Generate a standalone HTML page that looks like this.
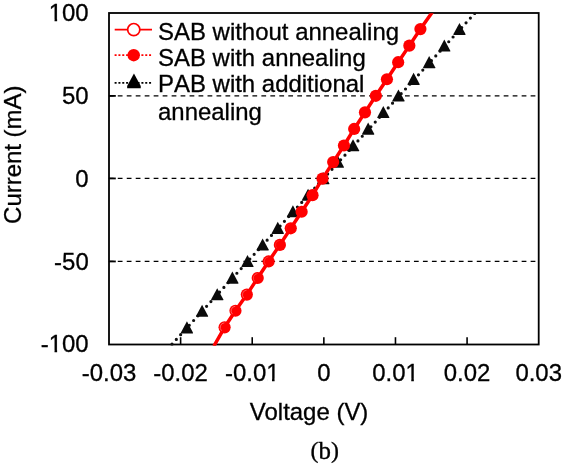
<!DOCTYPE html>
<html><head><meta charset="utf-8"><title>I-V characteristics</title>
<style>
html,body{margin:0;padding:0;background:#fff;}
svg{display:block;}
text{font-family:"Liberation Sans",Arial,Helvetica,sans-serif;fill:#000;font-kerning:none;}
.serif{font-family:"Liberation Serif","Times New Roman",serif;}
</style></head><body>
<svg width="562" height="464" viewBox="0 0 562 464">
<rect width="562" height="464" fill="#fff"/>
<line x1="108.8" y1="95.9" x2="538.7" y2="95.9" stroke="#000" stroke-width="1.3" stroke-dasharray="4.75 4.225"/>
<line x1="108.8" y1="178.45" x2="538.7" y2="178.45" stroke="#000" stroke-width="1.3" stroke-dasharray="4.75 4.225"/>
<line x1="108.8" y1="261.45" x2="538.7" y2="261.45" stroke="#000" stroke-width="1.3" stroke-dasharray="4.75 4.225"/>
<line x1="180.62" y1="344.5" x2="180.62" y2="337.2" stroke="#000" stroke-width="1.6"/>
<line x1="252.23" y1="344.5" x2="252.23" y2="337.2" stroke="#000" stroke-width="1.6"/>
<line x1="323.85" y1="344.5" x2="323.85" y2="337.2" stroke="#000" stroke-width="1.6"/>
<line x1="395.47" y1="344.5" x2="395.47" y2="337.2" stroke="#000" stroke-width="1.6"/>
<line x1="467.08" y1="344.5" x2="467.08" y2="337.2" stroke="#000" stroke-width="1.6"/>
<line x1="109.0" y1="95.9" x2="115.8" y2="95.9" stroke="#000" stroke-width="1.8"/>
<line x1="109.0" y1="178.45" x2="115.8" y2="178.45" stroke="#000" stroke-width="1.8"/>
<line x1="109.0" y1="261.45" x2="115.8" y2="261.45" stroke="#000" stroke-width="1.8"/>
<rect x="109.0" y="13.0" width="429.70000000000005" height="331.5" fill="none" stroke="#000" stroke-width="1.8"/>
<defs><clipPath id="c"><rect x="109.0" y="13.2" width="429.70000000000005" height="332.6"/></clipPath></defs>
<g clip-path="url(#c)">
<line x1="171.2" y1="345" x2="475.5" y2="12.5" stroke="#111" stroke-width="3.2" stroke-linecap="round" stroke-dasharray="0 6.405" stroke-dashoffset="5.22"/>
</g>
<path d="M186.94 321.32L192.94 332.49V333.42H180.94V332.49Z" fill="#0a0a0a"/>
<path d="M202.08 304.74L208.08 315.91V316.84H196.08V315.91Z" fill="#0a0a0a"/>
<path d="M217.22 288.16L223.22 299.33V300.26H211.22V299.33Z" fill="#0a0a0a"/>
<path d="M232.36 271.58L238.36 282.75V283.68H226.36V282.75Z" fill="#0a0a0a"/>
<path d="M247.50 255.00L253.50 266.17V267.10H241.50V266.17Z" fill="#0a0a0a"/>
<path d="M262.64 238.42L268.64 249.59V250.52H256.64V249.59Z" fill="#0a0a0a"/>
<path d="M277.78 221.84L283.78 233.01V233.94H271.78V233.01Z" fill="#0a0a0a"/>
<path d="M292.92 205.26L298.92 216.43V217.36H286.92V216.43Z" fill="#0a0a0a"/>
<path d="M308.06 188.68L314.06 199.85V200.78H302.06V199.85Z" fill="#0a0a0a"/>
<path d="M323.20 172.10L329.20 183.27V184.20H317.20V183.27Z" fill="#0a0a0a"/>
<path d="M337.89 155.72L343.89 166.89V167.82H331.89V166.89Z" fill="#0a0a0a"/>
<path d="M353.03 139.14L359.03 150.31V151.24H347.03V150.31Z" fill="#0a0a0a"/>
<path d="M368.17 122.56L374.17 133.73V134.66H362.17V133.73Z" fill="#0a0a0a"/>
<path d="M383.31 105.98L389.31 117.15V118.08H377.31V117.15Z" fill="#0a0a0a"/>
<path d="M398.45 89.40L404.45 100.57V101.50H392.45V100.57Z" fill="#0a0a0a"/>
<path d="M413.59 72.82L419.59 83.99V84.92H407.59V83.99Z" fill="#0a0a0a"/>
<path d="M429.18 56.04L435.18 67.21V68.14H423.18V67.21Z" fill="#0a0a0a"/>
<path d="M444.32 39.46L450.32 50.63V51.56H438.32V50.63Z" fill="#0a0a0a"/>
<path d="M459.46 22.88L465.46 34.05V34.98H453.46V34.05Z" fill="#0a0a0a"/>
<g clip-path="url(#c)">
<polyline points="213.9,346 224.58,327.33 235.46,310.76 246.84,294.59 257.72,278.02 268.60,261.45 279.88,244.88 290.76,228.31 301.64,211.74 312.52,195.17 322.50,178.65 333.18,162.08 343.96,145.51 354.14,128.94 364.97,112.37 375.85,95.80 386.93,79.23 398.16,62.21 409.34,45.64 420.42,29.07 432.4,12" fill="none" stroke="#f00" stroke-width="3.5" stroke-linejoin="round"/>
</g>
<circle cx="224.58" cy="327.33" r="6.1" fill="#f00"/>
<path d="M221.58 330.73A4.6 4.6 0 0 1 224.38 322.83" fill="none" stroke="#ff9a9a" stroke-opacity="1.00" stroke-width="0.6"/>
<circle cx="235.46" cy="310.76" r="6.1" fill="#f00"/>
<path d="M232.46 314.16A4.6 4.6 0 0 1 235.26 306.26" fill="none" stroke="#ff9a9a" stroke-opacity="1.00" stroke-width="0.6"/>
<circle cx="246.84" cy="294.59" r="6.1" fill="#f00"/>
<path d="M243.84 297.99A4.6 4.6 0 0 1 246.64 290.09" fill="none" stroke="#ff9a9a" stroke-opacity="0.83" stroke-width="0.6"/>
<circle cx="257.72" cy="278.02" r="6.1" fill="#f00"/>
<path d="M254.72 281.42A4.6 4.6 0 0 1 257.52 273.52" fill="none" stroke="#ff9a9a" stroke-opacity="0.67" stroke-width="0.6"/>
<circle cx="268.60" cy="261.45" r="6.1" fill="#f00"/>
<path d="M265.60 264.85A4.6 4.6 0 0 1 268.40 256.95" fill="none" stroke="#ff9a9a" stroke-opacity="0.50" stroke-width="0.6"/>
<circle cx="279.88" cy="244.88" r="6.1" fill="#f00"/>
<path d="M276.88 248.28A4.6 4.6 0 0 1 279.68 240.38" fill="none" stroke="#ff9a9a" stroke-opacity="0.33" stroke-width="0.6"/>
<circle cx="290.76" cy="228.31" r="6.1" fill="#f00"/>
<path d="M287.76 231.71A4.6 4.6 0 0 1 290.56 223.81" fill="none" stroke="#ff9a9a" stroke-opacity="0.17" stroke-width="0.6"/>
<circle cx="301.64" cy="211.74" r="6.1" fill="#f00"/>
<circle cx="312.52" cy="195.17" r="6.1" fill="#f00"/>
<circle cx="322.50" cy="178.65" r="6.1" fill="#f00"/>
<circle cx="333.18" cy="162.08" r="6.1" fill="#f00"/>
<circle cx="343.96" cy="145.51" r="6.1" fill="#f00"/>
<circle cx="354.14" cy="128.94" r="6.1" fill="#f00"/>
<circle cx="364.97" cy="112.37" r="6.1" fill="#f00"/>
<circle cx="375.85" cy="95.80" r="6.1" fill="#f00"/>
<circle cx="386.93" cy="79.23" r="6.1" fill="#f00"/>
<circle cx="398.16" cy="62.21" r="6.1" fill="#f00"/>
<circle cx="409.34" cy="45.64" r="6.1" fill="#f00"/>
<circle cx="420.42" cy="29.07" r="6.1" fill="#f00"/>
<line x1="114.7" y1="29.6" x2="152" y2="29.6" stroke="#f00" stroke-width="1.8"/>
<circle cx="133.75" cy="29.6" r="6.1" fill="#fff" stroke="#f00" stroke-width="1.7"/>
<line x1="114.6" y1="55.15" x2="151.2" y2="55.15" stroke="#f00" stroke-width="1.7" stroke-dasharray="2 1.83"/>
<circle cx="133.7" cy="55.2" r="6.2" fill="#f00"/>
<line x1="114.6" y1="82.9" x2="151.2" y2="82.9" stroke="#000" stroke-width="1.7" stroke-dasharray="2 1.83"/>
<path d="M133.95 73.4L140.75 85.9V88.15H127.15V85.9Z" fill="#000"/>
<text transform="translate(158.00 39.70) scale(1.02 1)" font-size="23.5" text-anchor="start" stroke="#000" stroke-width="0.3">SAB without annealing</text>
<text transform="translate(158.00 65.90) scale(1.02 1)" font-size="23.5" text-anchor="start" stroke="#000" stroke-width="0.3">SAB with annealing</text>
<text transform="translate(158.00 91.70) scale(1.02 1)" font-size="23.5" text-anchor="start" stroke="#000" stroke-width="0.3">PAB with additional</text>
<text transform="translate(158.00 120.00) scale(1.02 1)" font-size="23.5" text-anchor="start" stroke="#000" stroke-width="0.3">annealing</text>
<text transform="translate(88.70 21.10) scale(1.02 1)" font-size="23.5" text-anchor="end" stroke="#000" stroke-width="0.3">100</text>
<text transform="translate(88.70 103.85) scale(1.02 1)" font-size="23.5" text-anchor="end" stroke="#000" stroke-width="0.3">50</text>
<text transform="translate(88.70 186.50) scale(1.02 1)" font-size="23.5" text-anchor="end" stroke="#000" stroke-width="0.3">0</text>
<text transform="translate(88.70 269.50) scale(1.02 1)" font-size="23.5" text-anchor="end" stroke="#000" stroke-width="0.3">-50</text>
<text transform="translate(88.70 352.10) scale(1.02 1)" font-size="23.5" text-anchor="end" stroke="#000" stroke-width="0.3">-100</text>
<text transform="translate(109.00 380.80) scale(1.02 1)" font-size="23.5" text-anchor="middle" stroke="#000" stroke-width="0.3">-0.03</text>
<text transform="translate(180.62 380.80) scale(1.02 1)" font-size="23.5" text-anchor="middle" stroke="#000" stroke-width="0.3">-0.02</text>
<text transform="translate(252.23 380.80) scale(1.02 1)" font-size="23.5" text-anchor="middle" stroke="#000" stroke-width="0.3">-0.01</text>
<text transform="translate(323.85 380.80) scale(1.02 1)" font-size="23.5" text-anchor="middle" stroke="#000" stroke-width="0.3">0</text>
<text transform="translate(395.47 380.80) scale(1.02 1)" font-size="23.5" text-anchor="middle" stroke="#000" stroke-width="0.3">0.01</text>
<text transform="translate(467.08 380.80) scale(1.02 1)" font-size="23.5" text-anchor="middle" stroke="#000" stroke-width="0.3">0.02</text>
<text transform="translate(538.70 380.80) scale(1.02 1)" font-size="23.5" text-anchor="middle" stroke="#000" stroke-width="0.3">0.03</text>
<text style="font-kerning:normal" transform="translate(309.10 419.60) scale(1.02 1)" font-size="23.5" text-anchor="middle" stroke="#000" stroke-width="0.3">Voltage (V)</text>
<text transform="translate(20.80 154.70) rotate(-90) scale(1.02 1)" font-size="23.5" text-anchor="middle" stroke="#000" stroke-width="0.3">Current (mA)</text>
<text class="serif" transform="translate(324.80 458.50) scale(1.03 1)" font-size="24.2" text-anchor="middle" stroke="#000" stroke-width="0.3"><tspan font-size="23.2" dy="-0.5">(</tspan><tspan font-size="24.2" dy="0.5">b</tspan><tspan font-size="23.2" dy="-0.5">)</tspan></text>
<rect x="49.93" y="19.00" width="4.60" height="3.4" fill="#fff"/>
<rect x="57.13" y="19.00" width="4.60" height="3.4" fill="#fff"/>
<rect x="49.92" y="350.00" width="4.60" height="3.4" fill="#fff"/>
<rect x="57.12" y="350.00" width="4.60" height="3.4" fill="#fff"/>
<rect x="267.39" y="378.70" width="4.60" height="3.4" fill="#fff"/>
<rect x="274.59" y="378.70" width="4.60" height="3.4" fill="#fff"/>
<rect x="406.65" y="378.70" width="4.60" height="3.4" fill="#fff"/>
<rect x="413.85" y="378.70" width="4.60" height="3.4" fill="#fff"/>
</svg></body></html>
